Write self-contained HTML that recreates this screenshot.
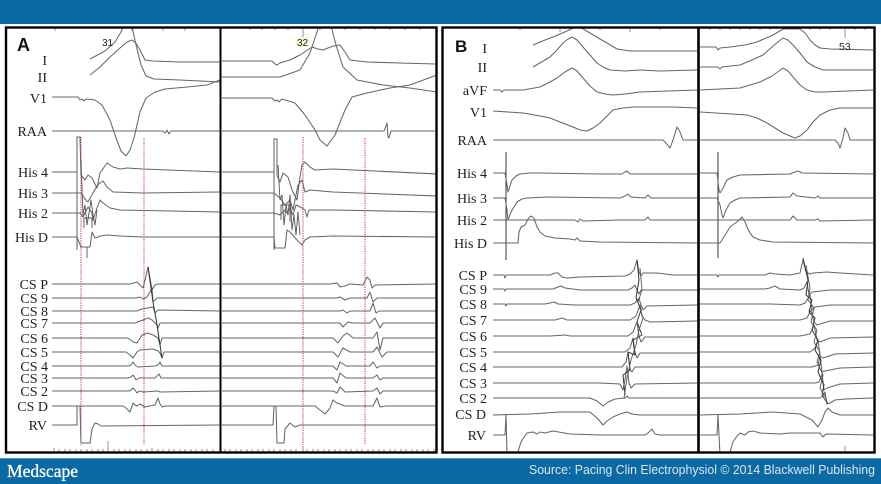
<!DOCTYPE html>
<html><head><meta charset="utf-8"><style>
html,body{margin:0;padding:0;background:#fff;}
svg{display:block;}
.t{fill:none;stroke:#666;stroke-width:1.05;stroke-linejoin:round;}
.k{fill:none;stroke:#333;stroke-width:1;stroke-linejoin:round;}
.k2{fill:none;stroke:#555;stroke-width:0.9;stroke-linejoin:round;}
.r{stroke:#d0242a;stroke-width:1;stroke-dasharray:1.2 1.2;}
.l{font-family:"Liberation Serif",serif;font-size:14px;fill:#1e1e1e;text-anchor:end;}
.tk{stroke:#777;stroke-width:0.8;}
</style></head><body>
<svg width="881" height="484" viewBox="0 0 881 484" xmlns="http://www.w3.org/2000/svg">
<defs>
<clipPath id="ca"><rect x="6" y="28" width="430" height="424"/></clipPath>
<clipPath id="cb"><rect x="443" y="28" width="431" height="424"/></clipPath>
</defs>
<rect x="0" y="0" width="881" height="24" fill="#0b69a3"/>
<rect x="0" y="458" width="881" height="26" fill="#0b69a3"/>
<rect x="0" y="458" width="881" height="1" fill="#4a92c4"/>

<!-- PANEL A -->
<g clip-path="url(#ca)">
<g class="tk">
<line x1="55" y1="28" x2="55" y2="31"/><line x1="132" y1="28" x2="132" y2="31"/><line x1="163" y1="28" x2="163" y2="31"/><line x1="185" y1="28" x2="185" y2="31"/>
<line x1="250" y1="28" x2="250" y2="30"/><line x1="262" y1="28" x2="262" y2="30"/><line x1="275" y1="28" x2="275" y2="30"/><line x1="288" y1="28" x2="288" y2="30"/><line x1="303" y1="28" x2="303" y2="38"/><line x1="320" y1="28" x2="320" y2="30"/><line x1="345" y1="28" x2="345" y2="30"/><line x1="360" y1="28" x2="360" y2="30"/><line x1="375" y1="28" x2="375" y2="30"/><line x1="390" y1="28" x2="390" y2="30"/><line x1="405" y1="28" x2="405" y2="30"/><line x1="420" y1="28" x2="420" y2="30"/>
<line x1="54" y1="448" x2="54" y2="452"/><line x1="59" y1="449" x2="59" y2="452"/><line x1="65" y1="449" x2="65" y2="452"/><line x1="70" y1="449" x2="70" y2="452"/><line x1="76" y1="449" x2="76" y2="452"/><line x1="81" y1="449" x2="81" y2="452"/><line x1="87" y1="449" x2="87" y2="452"/><line x1="92" y1="449" x2="92" y2="452"/><line x1="98" y1="449" x2="98" y2="452"/><line x1="103" y1="449" x2="103" y2="452"/><line x1="108" y1="441" x2="108" y2="452"/><line x1="114" y1="449" x2="114" y2="452"/><line x1="119" y1="449" x2="119" y2="452"/><line x1="125" y1="449" x2="125" y2="452"/><line x1="130" y1="449" x2="130" y2="452"/><line x1="136" y1="449" x2="136" y2="452"/><line x1="141" y1="449" x2="141" y2="452"/><line x1="147" y1="449" x2="147" y2="452"/><line x1="152" y1="448" x2="152" y2="452"/><line x1="158" y1="449" x2="158" y2="452"/><line x1="163" y1="449" x2="163" y2="452"/><line x1="169" y1="449" x2="169" y2="452"/><line x1="174" y1="449" x2="174" y2="452"/><line x1="180" y1="449" x2="180" y2="452"/><line x1="185" y1="449" x2="185" y2="452"/><line x1="191" y1="449" x2="191" y2="452"/><line x1="196" y1="449" x2="196" y2="452"/><line x1="202" y1="449" x2="202" y2="452"/><line x1="207" y1="449" x2="207" y2="452"/><line x1="213" y1="449" x2="213" y2="452"/>
<line x1="225" y1="449" x2="225" y2="452"/><line x1="230" y1="449" x2="230" y2="452"/><line x1="236" y1="449" x2="236" y2="452"/><line x1="241" y1="449" x2="241" y2="452"/><line x1="247" y1="449" x2="247" y2="452"/><line x1="252" y1="449" x2="252" y2="452"/><line x1="258" y1="449" x2="258" y2="452"/><line x1="263" y1="449" x2="263" y2="452"/><line x1="269" y1="449" x2="269" y2="452"/><line x1="274" y1="449" x2="274" y2="452"/><line x1="280" y1="449" x2="280" y2="452"/><line x1="285" y1="449" x2="285" y2="452"/><line x1="291" y1="449" x2="291" y2="452"/><line x1="296" y1="449" x2="296" y2="452"/><line x1="303" y1="446" x2="303" y2="452"/><line x1="307" y1="449" x2="307" y2="452"/><line x1="313" y1="449" x2="313" y2="452"/><line x1="318" y1="449" x2="318" y2="452"/><line x1="324" y1="449" x2="324" y2="452"/><line x1="329" y1="449" x2="329" y2="452"/><line x1="335" y1="449" x2="335" y2="452"/><line x1="340" y1="449" x2="340" y2="452"/><line x1="346" y1="449" x2="346" y2="452"/><line x1="351" y1="449" x2="351" y2="452"/><line x1="357" y1="449" x2="357" y2="452"/><line x1="362" y1="449" x2="362" y2="452"/><line x1="368" y1="449" x2="368" y2="452"/><line x1="373" y1="449" x2="373" y2="452"/><line x1="379" y1="449" x2="379" y2="452"/><line x1="384" y1="449" x2="384" y2="452"/><line x1="390" y1="449" x2="390" y2="452"/><line x1="395" y1="449" x2="395" y2="452"/><line x1="401" y1="449" x2="401" y2="452"/><line x1="406" y1="449" x2="406" y2="452"/><line x1="412" y1="449" x2="412" y2="452"/><line x1="417" y1="449" x2="417" y2="452"/><line x1="423" y1="449" x2="423" y2="452"/><line x1="428" y1="449" x2="428" y2="452"/><line x1="434" y1="449" x2="434" y2="452"/>
</g>
<line class="r" x1="81" y1="137" x2="81" y2="445"/>
<line class="r" x1="144" y1="138" x2="144" y2="445"/>
<line class="r" x1="303" y1="137" x2="303" y2="445"/>
<line class="r" x1="365" y1="138" x2="365" y2="445"/>

<polyline class="t" points="90,75 100,67 110,57 120,48 127,42 132,40 136,43 140,50 145,60 153,61 180,62 220,62"/>
<polyline class="t" points="90,59 105,51 115,42 121,32 126,20 131,22 136,45 141,65 146,76 154,79 180,80 220,82"/>
<polyline class="t" points="52,97 78,97 80,100 82,99 84,101 86,99 95,100 102,105 110,120 116,138 121,151 126,156 130,150 134,138 140,112 146,98 155,92 165,89 187,87 207,85 220,80"/>
<polyline class="t" points="52,131 163,131 165,133 167,130 169,134 171,131 220,131"/>
<polyline class="t" points="222,61 272,61 275,64 277,65 280,63 290,60 300,55 312,47 318,49 323,50 333,46 340,45 345,52 350,60 367,62 400,63 437,64"/>
<polyline class="t" points="222,77 280,77 300,70 310,53 316,35 320,22 330,22 336,45 343,67 357,80 383,85 410,88 437,92"/>
<polyline class="t" points="222,98 272,98 275,101 277,100 279,102 282,99 295,103 305,115 315,130 320,140 327,146 335,135 345,110 352,97 367,93 390,88 410,85 437,75"/>
<polyline class="t" points="222,131 384,131 386,126 387,123 388,137 389,138 391,131 437,131"/>

<polyline class="t" points="77,250 77,137 80,137 81,175"/>
<polyline class="t" points="52,172 77,172"/>
<polyline class="t" points="81,175 85,180 88,175 92,178 97,188 100,173 107,163 113,167 120,169 127,168 143,169 220,172"/>
<polyline class="t" points="52,193 81,193 85,199 88,202 93,193 97,186 100,183 103,181 107,187 113,192 143,193 220,192"/>
<polyline class="t" points="52,213 80,213 83,217 88,207 92,213 93,220 97,208 100,200 103,203 110,208 120,210 220,212"/>
<polyline class="t" points="52,237 77,237 81,247 90,247 92,232 95,238 98,237 100,236 107,235 120,236 143,237 220,237"/>
<polyline class="k2" points="81,160 83,215 85,205 87,225 89,213 91,200 93,215 95,225 97,210"/>
<polyline class="k2" points="84,228 84,218 92,218 92,228"/>
<line class="k2" x1="87" y1="247" x2="87" y2="258"/>

<polyline class="t" points="274,250 274,139 277,139 277,175"/>
<polyline class="t" points="222,172 274,172"/>
<polyline class="t" points="277,175 280,182 283,173 288,177 292,190 297,200 300,177 302,165 305,162 310,167 315,170 333,169 437,174"/>
<polyline class="t" points="222,193 274,193 280,198 285,205 290,200 293,210 298,185 302,180 305,192 310,190 333,192 437,196"/>
<polyline class="t" points="222,213 274,213 280,215 285,210 287,213 290,208 293,215 296,205 302,208 305,210 307,217 309,210 333,210 437,212"/>
<polyline class="t" points="222,237 274,237 275,248 285,248 287,230 290,232 297,240 302,245 305,240 310,237 333,236 437,237"/>
<polyline class="k2" points="278,165 280,200 282,195 284,225 286,205 288,215 290,195 292,230 294,215 296,235 298,212 300,235"/>
<polyline class="k2" points="281,220 281,205 290,205 290,222"/>

<polyline class="t" points="52,284 130,284 134,283 137,282 140,285 143,288 146,276 148,267 150,278 152,290 155,285 158,284 220,284"/>
<polyline class="t" points="52,298 136,298 140,297 143,299 147,297 150,292 152,288 153,302 157,298 220,298"/>
<polyline class="t" points="52,311 137,311 142,309 147,308 153,307 155,313 158,310 220,311"/>
<polyline class="t" points="52,323 135,323 140,321 143,320 148,318 152,320 155,323 157,325 158,328 160,323 220,323"/>
<polyline class="t" points="52,338 128,338 133,342 137,343 142,335 148,333 153,335 158,338 160,345 162,338 220,338"/>
<polyline class="t" points="52,352 126,352 130,355 133,358 137,352 140,350 153,349 158,351 160,353 162,358 164,352 220,352"/>
<polyline class="t" points="52,366 128,366 131,365 133,362 135,365 138,367 155,366 158,365 160,362 162,366 220,366"/>
<polyline class="t" points="52,378 128,378 131,377 133,375 135,378 136,380 139,378 155,378 157,376 159,374 161,378 220,378"/>
<polyline class="t" points="52,391 129,391 131,390 133,388 135,390 137,393 139,391 143,392 158,391 160,392 220,391"/>
<polyline class="t" points="52,406 123,406 126,408 130,412 133,403 135,405 137,406 140,404 145,407 150,406 155,405 158,398 160,404 162,407 165,406 220,406"/>
<polyline class="t" points="52,425 77,425 77,406 80,406 81,443 90,443 92,429 95,423 98,424 101,426 220,425"/>
<polyline class="k" points="148,267 151,288 153,302 155,313 157,325 160,345 162,358"/>

<polyline class="t" points="222,284 330,284 337,283 340,287 345,286 350,284 363,285 367,277 370,280 372,288 375,285 437,284"/>
<polyline class="t" points="222,298 337,298 340,297 345,300 350,298 367,298 370,292 373,302 377,298 437,298"/>
<polyline class="t" points="222,311 340,311 343,310 347,313 350,311 370,311 373,303 376,313 379,311 437,311"/>
<polyline class="t" points="222,323 337,323 340,323 343,327 348,322 352,323 370,323 375,318 380,328 383,323 437,323"/>
<polyline class="t" points="222,338 333,338 338,343 343,336 347,333 353,338 373,338 377,332 380,350 383,338 437,338"/>
<polyline class="t" points="222,352 333,352 338,357 343,348 350,352 373,352 377,347 382,357 387,352 437,352"/>
<polyline class="t" points="222,366 333,366 337,370 340,362 346,366 370,366 373,362 377,368 380,366 437,366"/>
<polyline class="t" points="222,378 333,378 337,383 340,373 346,378 373,378 377,375 380,380 383,378 437,378"/>
<polyline class="t" points="222,391 333,391 337,393 340,387 345,392 373,391 377,388 380,394 383,391 437,391"/>
<polyline class="t" points="222,406 315,406 320,410 325,414 330,408 333,400 337,403 345,406 373,406 377,398 380,407 386,406 437,406"/>
<polyline class="t" points="222,425 273,425 274,406 276,406 277,443 284,443 285,429 290,423 295,427 300,425 437,425"/>
</g>
<text x="17" y="51" font-family="Liberation Sans,sans-serif" font-size="18" font-weight="bold" fill="#111">A</text>
<text x="102" y="46" font-family="Liberation Sans,sans-serif" font-size="10" fill="#222">31</text>
<rect x="296" y="37" width="13" height="10" fill="#fbf8d6"/>
<text x="297" y="46" font-family="Liberation Sans,sans-serif" font-size="10" fill="#222">32</text>
<g class="l">
<text x="47" y="65">I</text>
<text x="47" y="82">II</text>
<text x="47" y="103">V1</text>
<text x="47" y="136">RAA</text>
<text x="48" y="177">His 4</text>
<text x="48" y="198">His 3</text>
<text x="48" y="218">His 2</text>
<text x="48" y="242">His D</text>
<text x="48" y="289">CS P</text>
<text x="48" y="303">CS 9</text>
<text x="48" y="316">CS 8</text>
<text x="48" y="328">CS 7</text>
<text x="48" y="343">CS 6</text>
<text x="48" y="357">CS 5</text>
<text x="48" y="371">CS 4</text>
<text x="48" y="383">CS 3</text>
<text x="48" y="396">CS 2</text>
<text x="48" y="411">CS D</text>
<text x="47" y="430">RV</text>
</g>
<rect x="6" y="27.5" width="430.5" height="425" fill="none" stroke="#000" stroke-width="2.4"/>
<line x1="220.5" y1="27" x2="220.5" y2="453" stroke="#000" stroke-width="2"/>

<!-- PANEL B -->
<g clip-path="url(#cb)">
<g class="tk">
<line x1="560" y1="28" x2="560" y2="32"/><line x1="630" y1="28" x2="630" y2="32"/><line x1="520" y1="28" x2="520" y2="30"/><line x1="600" y1="28" x2="600" y2="30"/><line x1="660" y1="28" x2="660" y2="30"/>
<line x1="710" y1="28" x2="710" y2="30"/><line x1="720" y1="28" x2="720" y2="30"/><line x1="730" y1="28" x2="730" y2="30"/><line x1="740" y1="28" x2="740" y2="30"/><line x1="750" y1="28" x2="750" y2="30"/><line x1="760" y1="28" x2="760" y2="30"/><line x1="770" y1="28" x2="770" y2="30"/><line x1="810" y1="28" x2="810" y2="30"/><line x1="820" y1="28" x2="820" y2="30"/><line x1="830" y1="28" x2="830" y2="30"/><line x1="845" y1="28" x2="845" y2="38"/><line x1="855" y1="28" x2="855" y2="30"/><line x1="865" y1="28" x2="865" y2="30"/>
<line x1="845" y1="446" x2="845" y2="452"/>
</g>
<polyline class="t" points="533,45 545,40 553,37 560,34 567,31 573,28 580,27 590,33 600,39 607,43 617,49 630,51 697,51"/>
<polyline class="t" points="533,67 550,57 557,50 563,43 568,39 572,37 577,40 583,47 590,55 597,63 603,67 610,70 625,71 640,70 660,71 697,70"/>
<polyline class="t" points="493,90 500,90 502,92 504,90 523,90 540,87 550,82 557,78 565,72 572,68 577,71 583,78 590,86 597,92 605,94 613,95 625,94 640,92 697,90"/>
<polyline class="t" points="493,111 523,113 540,116 550,118 560,122 573,127 580,130 587,131 593,128 600,123 607,116 613,110 623,108 633,107 673,107 697,108"/>
<polyline class="t" points="493,140 663,140 666,143 670,148 673,140 677,127 680,132 683,140 697,140"/>
<polyline class="t" points="700,47 716,47 718,50 720,48 730,47 745,45 757,42 773,35 778,32 783,29 800,29 805,33 810,40 815,45 820,48 830,49 873,50"/>
<polyline class="t" points="700,67 718,67 720,69 722,67 740,65 752,60 763,55 773,46 783,38 788,40 793,45 800,53 807,62 815,67 823,70 873,70"/>
<polyline class="t" points="700,90 740,88 760,82 772,76 783,68 788,71 793,77 800,85 807,90 815,92 823,92 873,90"/>
<polyline class="t" points="700,112 747,115 757,118 767,123 775,128 783,133 795,138 800,136 807,130 813,122 820,115 830,110 840,108 873,108"/>
<polyline class="t" points="700,140 835,140 838,143 840,148 843,138 845,128 848,133 850,140 873,140"/>
<line class="k" x1="506" y1="152" x2="506" y2="260"/>
<polyline class="t" points="493,173 505,173 507,185 508,192 510,186 512,180 516,176 520,174 530,173 540,173 600,174 622,174 625,172 627,171 630,174 697,174"/>
<polyline class="t" points="493,198 505,198 507,210 508,220 511,212 517,202 522,199 527,198 547,197 620,198 625,196 628,194 631,197 645,198 648,195 651,198 697,198"/>
<polyline class="t" points="493,220 575,220 578,222 580,219 583,221 620,220 645,220 648,217 650,220 697,220"/>
<polyline class="t" points="493,243 518,243 519,232 521,227 525,225 528,219 531,216 534,218 537,227 540,232 545,236 555,238 570,239 575,240 577,238 580,241 600,242 697,243"/>
<line class="k" x1="718" y1="152" x2="718" y2="258"/>
<polyline class="t" points="700,173 717,173 719,190 720,193 723,188 727,180 733,177 740,175 790,174 795,172 798,171 802,173 873,174"/>
<polyline class="t" points="700,198 717,198 720,205 722,215 723,218 726,210 730,203 735,200 740,198 790,197 793,193 797,196 815,198 818,196 820,198 873,198"/>
<polyline class="t" points="700,220 790,220 793,216 797,220 815,220 818,219 820,221 873,220"/>
<polyline class="t" points="700,243 720,243 722,240 727,232 730,227 734,224 737,222 742,217 745,222 747,227 750,233 753,237 760,240 773,242 873,243"/>
<polyline class="t" points="493,275 504,275 505,278 506,275 550,275 555,273 558,273 562,277 567,278 580,277 625,276 630,274 634,270 637,260 639,272 641,276 643,273 650,273 657,273 673,275 697,275"/>
<polyline class="t" points="493,289 504,289 505,291 506,289 553,289 558,287 561,286 565,288 580,290 628,290 632,288 635,285 637,290 639,294 641,290 697,290"/>
<polyline class="t" points="493,304 505,304 506,306 507,304 545,304 550,303 554,302 558,304 575,305 630,305 635,303 639,298 641,305 643,310 647,306 697,305"/>
<polyline class="t" points="493,320 545,320 555,320 562,318 567,320 630,320 636,316 640,305 642,316 645,320 650,322 697,321"/>
<polyline class="t" points="493,336 550,336 565,335 570,336 628,336 633,332 637,322 639,336 641,342 645,337 697,337"/>
<polyline class="t" points="493,352 600,352 625,352 630,348 633,338 635,352 637,358 640,353 697,353"/>
<polyline class="t" points="493,367 600,367 622,367 626,362 628,352 630,370 632,372 635,367 697,367"/>
<polyline class="t" points="493,383 600,383 620,384 623,390 625,380 627,366 629,383 631,388 635,384 697,383"/>
<polyline class="t" points="493,398 590,398 597,401 603,406 608,402 615,399 625,398 627,396 629,398 697,398"/>
<polyline class="t" points="493,415 530,414 560,412 590,412 597,418 603,425 607,421 613,417 620,414 627,412 632,414 640,415 697,415"/>
<polyline class="t" points="493,435 505,435 506,415 507,455"/>
<polyline class="t" points="517,455 518,452 520,445 522,440 527,433 533,432 537,434 540,432 545,433 553,431 570,434 600,435 645,435 648,433 652,429 655,434 660,435 697,435"/>
<polyline class="k" points="637,260 639,280 636,298 641,310 637,322 642,335 633,340 635,355 628,352 630,370 623,375 625,395"/>
<polyline class="k2" points="640,268 642,290 638,302 643,318 639,330 636,345 631,360 627,378 624,398"/>
<polyline class="t" points="700,275 717,275 718,277 719,275 765,275 770,273 775,274 790,275 800,273 803,260 806,272 810,274 813,273 827,272 840,273 873,275"/>
<polyline class="t" points="700,289 765,289 770,288 775,286 780,289 800,290 804,288 807,282 809,295 812,292 830,290 873,290"/>
<polyline class="t" points="700,304 770,304 800,305 805,303 810,295 812,310 815,307 830,305 873,305"/>
<polyline class="t" points="700,320 800,320 807,318 811,310 814,322 817,325 830,321 873,321"/>
<polyline class="t" points="700,336 800,336 810,334 814,325 817,340 820,342 830,338 873,337"/>
<polyline class="t" points="700,352 810,352 815,348 818,340 820,356 823,358 835,354 873,353"/>
<polyline class="t" points="700,367 812,367 818,365 820,356 822,372 825,371 840,368 873,367"/>
<polyline class="t" points="700,383 815,383 819,382 822,374 824,390 827,388 840,384 873,383"/>
<polyline class="t" points="700,398 820,398 823,396 825,392 827,404 830,403 835,400 845,399 873,398"/>
<polyline class="t" points="700,415 740,414 773,412 800,414 812,420 818,427 822,420 825,412 828,408 832,412 840,415 873,415"/>
<polyline class="t" points="700,435 717,435 718,415 720,455"/>
<polyline class="t" points="729,455 730,452 733,442 737,436 740,433 745,435 748,432 753,431 760,433 780,434 790,433 820,433 823,437 826,434 873,435"/>
<polyline class="k" points="803,258 808,280 806,295 812,300 809,312 815,318 812,330 818,340 815,350 821,360 818,372 824,385 822,395 828,404"/>
<polyline class="k2" points="806,265 810,288 808,300 814,308 811,322 817,330 814,342 820,352 817,362 823,375 820,388 826,398"/>
</g>
<text x="455" y="52" font-family="Liberation Sans,sans-serif" font-size="17" font-weight="bold" fill="#111">B</text>
<text x="839" y="50" font-family="Liberation Sans,sans-serif" font-size="10.5" fill="#222">53</text>
<g class="l">
<text x="487" y="53">I</text>
<text x="487" y="72">II</text>
<text x="487" y="95">aVF</text>
<text x="487" y="117">V1</text>
<text x="487" y="145">RAA</text>
<text x="487" y="178">His 4</text>
<text x="487" y="203">His 3</text>
<text x="487" y="225">His 2</text>
<text x="487" y="248">His D</text>
<text x="487" y="280">CS P</text>
<text x="487" y="294">CS 9</text>
<text x="487" y="309">CS 8</text>
<text x="487" y="325">CS 7</text>
<text x="487" y="341">CS 6</text>
<text x="487" y="357">CS 5</text>
<text x="487" y="372">CS 4</text>
<text x="487" y="388">CS 3</text>
<text x="487" y="403">CS 2</text>
<text x="486" y="419">CS D</text>
<text x="486" y="440">RV</text>
</g>
<rect x="442.5" y="27.5" width="432" height="425" fill="none" stroke="#000" stroke-width="2.4"/>
<line x1="698.5" y1="27" x2="698.5" y2="453" stroke="#000" stroke-width="2.6"/>

<text x="7" y="477" font-family="Liberation Serif,serif" font-size="18" fill="#fff" stroke="#fff" stroke-width="0.3" textLength="71" lengthAdjust="spacingAndGlyphs">Medscape</text>
<text x="875" y="474" font-family="Liberation Sans,sans-serif" font-size="12.5" fill="#dbe6f0" text-anchor="end" textLength="346" lengthAdjust="spacingAndGlyphs">Source: Pacing Clin Electrophysiol © 2014 Blackwell Publishing</text>
</svg>
</body></html>
